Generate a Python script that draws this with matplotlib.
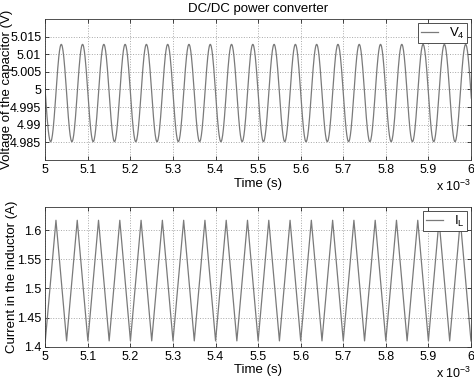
import numpy as np
import matplotlib
matplotlib.use("Agg")
import matplotlib.pyplot as plt

plt.rcParams["font.family"] = ["Liberation Sans", "DejaVu Sans"]
plt.rcParams["mathtext.default"] = "regular"

# time in ms (axis carries the x 10^-3 multiplier)
xticks = [5, 5.1, 5.2, 5.3, 5.4, 5.5, 5.6, 5.7, 5.8, 5.9, 6]
xtick_labels = ["5", "5.1", "5.2", "5.3", "5.4", "5.5", "5.6", "5.7", "5.8", "5.9", "6"]

# capacitor voltage: extrema (sinusoidal ripple)
v_peak_t = [4.9875, 5.0375, 5.0875, 5.1375, 5.1875, 5.2375, 5.2875, 5.3375,
            5.3875, 5.4375, 5.4875, 5.5375, 5.5875, 5.6375, 5.6875, 5.7375,
            5.7875, 5.8375, 5.8875, 5.9375, 5.9875]
v_trough_t = [5.0125, 5.0625, 5.1125, 5.1625, 5.2125, 5.2625, 5.3125, 5.3625,
              5.4125, 5.4625, 5.5125, 5.5625, 5.6125, 5.6625, 5.7125, 5.7625,
              5.8125, 5.8625, 5.9125, 5.9625, 6.0125]
v_peak = 5.0128
v_trough = 4.9852
v_ticks = [4.985, 4.99, 4.995, 5, 5.005, 5.01, 5.015]
v_tick_labels = ["4.985", "4.99", "4.995", "5", "5.005", "5.01", "5.015"]

# inductor current: triangle vertices
i_t = [5.0, 5.025, 5.05, 5.075, 5.1, 5.125, 5.15, 5.175, 5.2, 5.225, 5.25,
       5.275, 5.3, 5.325, 5.35, 5.375, 5.4, 5.425, 5.45, 5.475, 5.5, 5.525,
       5.55, 5.575, 5.6, 5.625, 5.65, 5.675, 5.7, 5.725, 5.75, 5.775, 5.8,
       5.825, 5.85, 5.875, 5.9, 5.925, 5.95, 5.975, 6.0]
i_val = [1.41, 1.617, 1.41, 1.617, 1.41, 1.617, 1.41, 1.617, 1.41, 1.617, 1.41,
         1.617, 1.41, 1.617, 1.41, 1.617, 1.41, 1.617, 1.41, 1.617, 1.41, 1.617,
         1.41, 1.617, 1.41, 1.617, 1.41, 1.617, 1.41, 1.617, 1.41, 1.617, 1.41,
         1.617, 1.41, 1.617, 1.41, 1.617, 1.41, 1.617, 1.41]
i_ticks = [1.4, 1.45, 1.5, 1.55, 1.6]
i_tick_labels = ["1.4", "1.45", "1.5", "1.55", "1.6"]

line_color = "#7a7a7a"
grid_color = "#a8a8a8"


def smooth_extrema(times, values, n=30):
    # half-cosine between successive extrema, like a sampled sine
    ts, vs = [], []
    for k in range(len(times) - 1):
        s = np.linspace(0, 1, n, endpoint=False)
        ts.append(times[k] + (times[k + 1] - times[k]) * s)
        vs.append(values[k] + (values[k + 1] - values[k]) * (1 - np.cos(np.pi * s)) / 2)
    ts.append([times[-1]])
    vs.append([values[-1]])
    return np.concatenate(ts), np.concatenate(vs)


ext_t = sorted(v_peak_t + v_trough_t)
ext_v = [v_peak if t in v_peak_t else v_trough for t in ext_t]
vt, vv = smooth_extrema(ext_t, ext_v)

fig = plt.figure(figsize=(4.74, 3.8), dpi=100)
ax1 = fig.add_axes([0.0956, 0.579, 0.898, 0.371])
ax2 = fig.add_axes([0.0956, 0.0876, 0.898, 0.368])


def style(ax):
    ax.set_xlim(5, 6)
    ax.set_xticks(xticks)
    ax.set_xticklabels(xtick_labels)
    ax.tick_params(direction="in", top=True, right=True, labelsize=9,
                   length=3, width=0.5, pad=3)
    ax.grid(True, linestyle=":", color=grid_color, linewidth=0.7)
    for sp in ax.spines.values():
        sp.set_color("#333333")
        sp.set_linewidth(0.6)
    ax.set_xlabel("Time (s)", fontsize=9.5, labelpad=1)
    ax.text(1.0, -0.135, r"x 10$^{-3}$", transform=ax.transAxes,
            ha="right", va="top", fontsize=9)


ax1.plot(vt, vv, color=line_color, linewidth=0.9, label="V$_4$")
style(ax1)
ax1.set_ylim(4.98, 5.02)
ax1.set_yticks(v_ticks)
ax1.set_yticklabels(v_tick_labels)
ax1.set_ylabel("Voltage of the capacitor (V)", fontsize=9.5)
ax1.yaxis.set_label_coords(-0.076, 0.5)
ax1.set_title("DC/DC power converter", fontsize=9.5, pad=5)

ax2.plot(i_t, i_val, color=line_color, linewidth=0.9, label="I$_L$")
style(ax2)
ax2.set_ylim(1.4, 1.64)
ax2.set_yticks(i_ticks)
ax2.set_yticklabels(i_tick_labels)
ax2.set_ylabel("Current in the inductor (A)", fontsize=9.5)
ax2.yaxis.set_label_coords(-0.064, 0.5)

for ax in (ax1, ax2):
    leg = ax.legend(loc="upper right", fontsize=9.5, fancybox=False,
                    framealpha=1, edgecolor="#333333", handlelength=1.3,
                    borderaxespad=0.3, borderpad=0.2, handletextpad=0.8)
    leg.get_frame().set_linewidth(0.6)

fig.savefig("out.png", dpi=100)
